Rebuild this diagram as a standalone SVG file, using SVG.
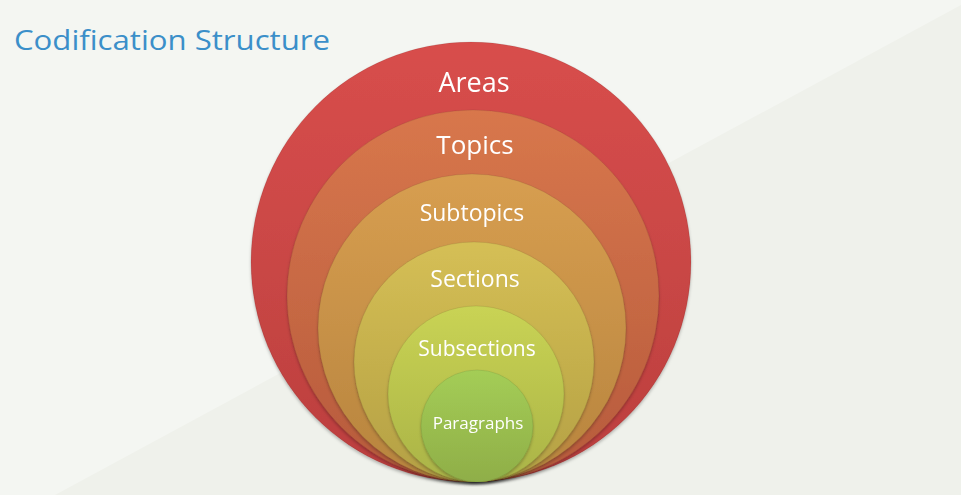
<svg xmlns="http://www.w3.org/2000/svg" width="961" height="495" viewBox="0 0 961 495">
<defs>
<linearGradient id="gA" x1="0" y1="0" x2="0" y2="1"><stop offset="0" stop-color="#d84e4c"/><stop offset="1" stop-color="#bb3f3e"/></linearGradient>
<linearGradient id="gT" x1="0" y1="0" x2="0" y2="1"><stop offset="0" stop-color="#d8774c"/><stop offset="1" stop-color="#b65a3c"/></linearGradient>
<linearGradient id="gS" x1="0" y1="0" x2="0" y2="1"><stop offset="0" stop-color="#d79e50"/><stop offset="1" stop-color="#b7843e"/></linearGradient>
<linearGradient id="gC" x1="0" y1="0" x2="0" y2="1"><stop offset="0" stop-color="#d5bf55"/><stop offset="1" stop-color="#b4a044"/></linearGradient>
<linearGradient id="gU" x1="0" y1="0" x2="0" y2="1"><stop offset="0" stop-color="#c9d354"/><stop offset="1" stop-color="#aab347"/></linearGradient>
<linearGradient id="gP" x1="0" y1="0" x2="0" y2="1"><stop offset="0" stop-color="#a4cd56"/><stop offset="1" stop-color="#8fae48"/></linearGradient>
<filter id="sh" x="-10%" y="-10%" width="120%" height="125%"><feDropShadow dx="0" dy="2" stdDeviation="1.5" flood-color="#000" flood-opacity="0.25"/></filter>
</defs>
<style>
.lbl{font-family:"Open Sans","Noto Sans","Liberation Sans",sans-serif;fill:#ffffff;text-anchor:middle}
.ring{stroke:#000;stroke-opacity:0.08;stroke-width:1}
</style>
<rect width="961" height="495" fill="#f4f6f2"/>
<polygon points="55,495 961,5 961,495" fill="#eff1eb"/>
<text x="14" y="50" font-family="'Open Sans','Noto Sans',sans-serif" font-size="28" fill="#3b8fc9" textLength="316" lengthAdjust="spacingAndGlyphs">Codification Structure</text>
<g id="areas" filter="url(#sh)"><circle class="ring" cx="471" cy="262" r="220" fill="url(#gA)"/><text class="lbl" x="474" y="92" font-size="27">Areas</text></g>
<g id="topics" filter="url(#sh)"><circle class="ring" cx="473" cy="296" r="186" fill="url(#gT)"/><text class="lbl" x="475" y="154" font-size="26">Topics</text></g>
<g id="subtopics" filter="url(#sh)"><circle class="ring" cx="472" cy="328" r="154" fill="url(#gS)"/><text class="lbl" x="472" y="221" font-size="23">Subtopics</text></g>
<g id="sections" filter="url(#sh)"><circle class="ring" cx="474" cy="362" r="120" fill="url(#gC)"/><text class="lbl" x="475" y="287" font-size="23">Sections</text></g>
<g id="subsections" filter="url(#sh)"><circle class="ring" cx="476" cy="394" r="88" fill="url(#gU)"/><text class="lbl" x="477" y="356" font-size="21">Subsections</text></g>
<g id="paragraphs" filter="url(#sh)"><circle class="ring" cx="477" cy="426" r="56" fill="url(#gP)"/><text class="lbl" x="478" y="429" font-size="17">Paragraphs</text></g>
<g id="connectors"/>
</svg>
